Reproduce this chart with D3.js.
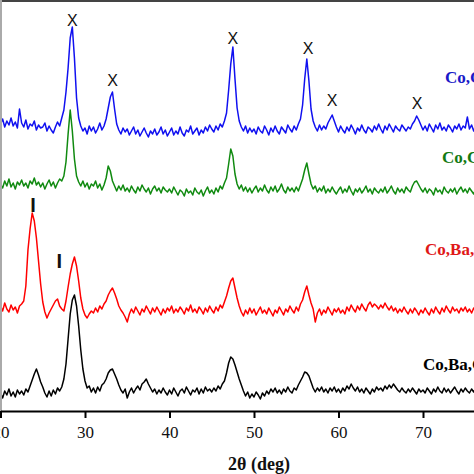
<!DOCTYPE html>
<html><head><meta charset="utf-8">
<script src="https://cdn.jsdelivr.net/npm/d3@7"></script>
<style>html,body{margin:0;padding:0;background:#fff;overflow:hidden}</style>
</head><body>
<svg id="c" width="474" height="474"></svg>
<script>
// 2θ grid: start 20°, step 0.25°
const thetaStart = 20, thetaStep = 0.25;
const xTicks = [20, 30, 40, 50, 60, 70];
const xTitle = "2θ (deg)";

// stacked intensities (a.u.)
const blue = [
286,291,283,289,285,292,284,288,282,301,287,283,290,281,286,284,289,280,285,282,
283,287,279,284,280,277,283,288,284,292,300,318,342,372,383,352,312,292,284,279,
282,276,284,279,283,277,281,287,280,284,291,302,313,318,301,286,280,276,282,278,
281,275,279,283,276,280,274,278,282,277,273,279,276,281,275,278,283,276,280,274,
278,282,275,279,276,283,277,274,280,278,284,276,279,282,275,280,277,283,279,285,
281,278,284,280,286,283,289,297,320,346,363,331,302,289,283,279,284,277,282,278,
281,276,283,279,277,284,280,275,282,278,284,279,276,283,280,277,285,281,278,284,
280,286,291,305,331,351,329,301,289,283,279,285,280,284,281,287,291,295,289,283,
278,284,280,277,283,279,285,281,276,282,279,285,280,277,283,281,278,284,280,286,
281,277,284,280,286,282,278,284,281,279,285,282,279,283,281,286,289,294,290,285,
280,284,279,286,282,278,285,281,287,280,283,279,285,282,278,284,281,286,280,284,
282,293,281,285,279,284,282];
const green = [
226,222,229,224,231,223,227,221,228,225,230,224,227,222,229,226,232,225,228,223,
227,221,226,230,224,228,222,227,231,229,234,248,276,300,279,251,234,228,224,229,
223,227,221,226,224,229,222,226,220,225,232,244,239,229,224,219,224,220,225,219,
222,218,224,220,217,223,219,225,221,218,222,216,221,224,219,222,217,223,220,218,
221,217,223,219,215,220,218,214,221,217,219,215,222,218,216,220,214,219,223,217,
220,216,222,218,224,221,227,232,246,261,254,236,226,221,225,219,223,218,222,217,
221,224,218,222,219,225,220,217,223,219,224,218,221,226,220,217,223,219,222,218,
223,219,225,231,240,247,236,226,221,224,218,222,219,224,217,221,218,223,219,216,
220,223,217,221,218,224,219,215,221,218,222,217,220,224,218,221,216,222,219,217,
221,218,223,217,220,224,219,216,222,218,221,217,223,220,218,224,228,229,225,221,
218,222,217,221,219,215,222,218,220,216,223,219,217,221,218,222,216,220,223,218,
221,217,222,219,216,221,218];
const red = [
104,99,107,101,98,105,100,103,97,104,106,109,124,160,181,197,189,172,149,126,
108,98,92,97,101,105,109,111,104,101,99,109,123,136,146,153,144,129,112,101,
95,92,96,99,97,102,98,104,101,106,109,115,119,122,117,111,104,100,97,93,
88,96,101,97,103,99,95,101,98,104,100,96,102,98,103,99,95,101,97,102,
99,104,97,101,98,103,100,96,102,99,105,98,101,97,103,100,96,102,98,104,
100,97,103,99,105,102,108,114,122,129,132,122,112,104,98,94,100,96,102,97,
101,95,99,103,97,100,96,102,98,94,100,97,103,99,95,101,98,104,100,97,
103,99,106,110,118,124,115,107,101,88,97,101,95,100,97,103,99,95,101,98,
102,97,100,96,103,99,105,101,98,104,100,106,102,99,105,108,103,106,104,101,
105,102,107,103,100,104,99,102,97,101,98,103,99,96,101,97,102,99,95,100,
97,102,98,95,101,97,103,99,96,102,98,104,100,97,103,99,101,97,102,99,
103,98,101,97,102,99,104];
const black = [
17,12,19,15,21,14,18,13,20,16,19,15,21,18,24,30,36,41,35,28,
23,17,13,19,14,20,16,22,19,23,31,46,71,96,110,115,104,84,60,41,
29,22,24,18,22,17,23,19,25,27,31,37,40,41,36,31,25,20,17,21,
12,18,22,17,21,24,20,26,28,31,26,22,18,21,16,20,17,22,18,15,
20,16,22,18,14,19,21,17,23,19,15,20,18,22,16,21,17,23,19,21,
18,22,19,24,21,26,29,37,47,53,51,45,38,31,25,19,14,18,12,16,
13,18,15,11,17,14,19,16,21,18,22,17,20,16,21,18,23,19,17,22,
20,25,29,33,38,37,34,28,22,18,22,19,23,18,21,17,22,19,23,18,
21,17,22,19,24,21,26,22,19,23,18,21,17,22,19,16,21,18,23,20,
22,19,24,21,25,22,26,23,20,18,22,19,17,21,18,22,19,16,21,18,
20,17,22,19,16,21,18,23,19,17,22,18,21,17,20,23,19,16,21,18,
22,19,17,21,18,22,19];

const seriesNames = ["Co,Ce", "Co,Ce", "Co,Ba,Ce", "Co,Ba,Ce"];
const seriesColors = ["#1010f0", "#108a10", "#ff0000", "#000000"];
const labelColors = ["#1a1ac8", "#137a13", "#e01818", "#000000"];
const labelTheta = [72.6, 72.25, 70.24, 70.0];
const labelInt = [327, 247, 155, 40];

// peak annotations
const xMarkTheta = [28.5, 33.25, 47.5, 56.4, 59.25, 69.3];
const xMarkInt = [390, 330, 372, 362, 310, 307];
const iMarkTheta = [23.85, 26.95];
const iMarkInt = [205, 149];

const svg = d3.select("#c");
const x = d3.scaleLinear().domain([20, 80]).range([0.5, 507.5]);
const y = d3.scaleLinear().domain([0, 410]).range([410, 0]);

const allSeries = [blue, green, red, black];
const line = d3.line()
  .x((d, i) => x(thetaStart + i * thetaStep))
  .y(d => y(d));

allSeries.forEach((s, k) => {
  svg.append("path").datum(s)
    .attr("d", line)
    .attr("fill", "none")
    .attr("stroke", seriesColors[k])
    .attr("stroke-width", 1.5)
    .attr("stroke-linejoin", "round");
});

// frame
svg.append("line").attr("x1", 0).attr("x2", 474).attr("y1", 1).attr("y2", 1)
  .attr("stroke", "#444").attr("stroke-width", 2);
svg.append("line").attr("x1", 1).attr("x2", 1).attr("y1", 0).attr("y2", 418)
  .attr("stroke", "#aaa").attr("stroke-width", 2);

// x axis
const ax = svg.append("g").attr("transform", "translate(0,411)")
  .call(d3.axisBottom(x).tickValues(xTicks).tickSize(7).tickSizeOuter(0).tickPadding(8).tickFormat(d3.format("d")));
ax.select(".domain").attr("stroke", "#000").attr("stroke-width", 2);
ax.selectAll(".tick line").attr("stroke", "#000").attr("stroke-width", 2);
ax.selectAll(".tick text").attr("font-family", "Liberation Serif, Times New Roman, serif")
  .attr("font-size", 17).attr("fill", "#111");

svg.append("text").attr("x", 259).attr("y", 470).attr("text-anchor", "middle")
  .attr("font-family", "Liberation Serif, Times New Roman, serif")
  .attr("font-weight", "bold").attr("font-size", 18).attr("fill", "#111")
  .text(xTitle);

// series labels
seriesNames.forEach((n, k) => {
  svg.append("text").attr("x", x(labelTheta[k])).attr("y", y(labelInt[k]))
    .attr("font-family", "Liberation Serif, Times New Roman, serif")
    .attr("font-weight", "bold").attr("font-size", 17)
    .attr("fill", labelColors[k]).text(n);
});

// marks
xMarkTheta.forEach((t, i) => {
  svg.append("text").attr("x", x(t)).attr("y", y(xMarkInt[i]))
    .attr("text-anchor", "middle").attr("dominant-baseline", "central")
    .attr("font-family", "Liberation Sans, Arial, sans-serif")
    .attr("font-size", 16).attr("fill", "#111").text("X");
});
iMarkTheta.forEach((t, i) => {
  svg.append("text").attr("x", x(t)).attr("y", y(iMarkInt[i]))
    .attr("text-anchor", "middle").attr("dominant-baseline", "central")
    .attr("font-family", "Liberation Sans, Arial, sans-serif")
    .attr("font-weight", "bold").attr("font-size", 20).attr("fill", "#111").text("I");
});
</script>
</body></html>
